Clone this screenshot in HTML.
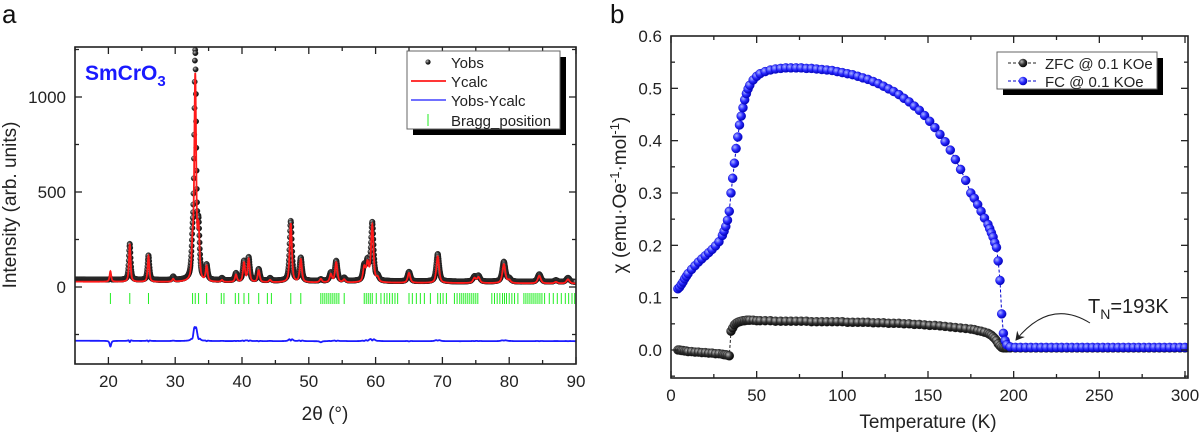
<!DOCTYPE html>
<html><head><meta charset="utf-8">
<style>
html,body{margin:0;padding:0;background:#fff;}
svg{display:block;font-family:"Liberation Sans",Arial,sans-serif;}
</style></head>
<body>
<svg id="fig" width="1200" height="440" viewBox="0 0 1200 440" xmlns="http://www.w3.org/2000/svg">
<defs>
<radialGradient id="gBlack" cx="35%" cy="35%" r="70%"><stop offset="0" stop-color="#bbb"/><stop offset="0.5" stop-color="#333"/><stop offset="1" stop-color="#000"/></radialGradient>
<radialGradient id="gBlue" cx="35%" cy="35%" r="70%"><stop offset="0" stop-color="#aab4ff"/><stop offset="0.5" stop-color="#2a2aff"/><stop offset="1" stop-color="#0000b0"/></radialGradient>
<marker id="arrowHead" markerWidth="10" markerHeight="10" refX="8" refY="5" orient="auto" markerUnits="userSpaceOnUse"><path d="M0,0 L9,5 L0,10 L3,5 Z" fill="#222"/></marker>
</defs>
<text x="2" y="23" font-size="26" fill="#111">a</text>
<text x="610" y="23" font-size="26" fill="#111">b</text>
<g id="panelA"></g>
<g id="panelB"></g>
</svg>
<script>
// ---------- Panel A data ----------
const peakPos   = [20.3,23.2,26.0,29.7,32.6,33.0,33.5,34.7,37.0,39.1,40.3,41.0,42.5,44.2,47.3,48.8,51.8,53.3,54.1,55.3,58.3,58.8,59.5,60.3,65.0,69.3,74.8,75.4,79.2,80.0,84.5,87.0,88.8];
const peakObs   = [5,190,130,18,160,1180,250,75,12,38,100,120,60,14,315,120,8,42,105,16,75,95,305,22,50,145,26,30,105,16,40,9,22];
const peakCalc  = [55,200,135,15,165,1070,250,78,10,38,100,120,62,12,310,120,18,42,105,15,76,95,300,22,52,140,26,30,100,15,40,8,22];
const bgAngles  = [15,30,45,60,75,90];
const bgObs     = [40,35,32,30,28,26];
const bgCalc    = [28,26,24,22,20,18];
const braggPos  = [20.3,23.2,26.0,32.6,33.0,33.5,34.7,36.9,37.3,39.0,39.5,40.3,41.0,42.5,43.8,44.4,47.3,48.8,51.8,52.1,52.4,52.7,53.0,53.3,53.6,53.9,54.2,54.5,55.3,58.3,58.6,58.9,59.2,59.5,60.1,60.8,61.3,61.7,62.1,62.5,62.9,63.3,65.0,65.5,66.1,66.7,67.3,68.2,69.3,69.7,70.1,70.6,71.8,72.2,72.6,72.9,73.2,73.5,73.8,74.1,74.4,74.7,75.0,75.3,77.4,77.8,78.2,78.6,79.0,79.3,79.6,80.0,80.4,80.8,81.3,82.2,82.5,82.8,83.1,83.4,83.7,84.0,84.3,84.6,84.9,85.3,86.0,86.6,87.2,87.8,88.4,88.9,89.4,89.8];
const xTicksA   = [20,30,40,50,60,70,80,90];
const yTicksA   = [0,500,1000];

// ---------- Panel B data ----------
const temps = [4,5,6,7,8,9,10,12,14,16,18,20,22,24,26,28,30,31,32,33,34,35,36,37,38,39,40,41,42,43,44,45,46,48,50,52,55,58,61,64,67,70,73,76,79,82,85,88,91,94,97,100,103,106,109,112,115,118,121,124,127,130,133,136,139,142,145,148,151,154,157,160,163,166,169,172,175,177,179,181,183,185,186,187,188,189,190,191,192,193,194,195,196,198,201,204,207,210,213,216,219,222,225,228,231,234,237,240,243,246,249,252,255,258,261,264,267,270,273,276,279,282,285,288,291,294,297,300];
const chiFC = [0.117,0.120,0.125,0.130,0.136,0.141,0.146,
 0.154,0.161,0.168,0.174,0.180,0.186,0.192,0.199,0.207,0.219,
 0.227,0.236,0.248,0.265,0.300,0.328,0.357,0.385,0.407,0.430,0.447,0.463,0.478,0.490,0.499,0.506,
 0.516,0.523,0.528,
 0.532,0.535,0.537,0.538,0.539,0.539,0.539,0.539,0.538,0.538,0.537,0.536,0.535,0.534,0.532,0.530,0.528,0.526,0.523,0.520,0.517,0.513,0.509,0.504,0.499,0.494,0.488,0.481,0.474,0.466,0.458,0.448,0.437,0.425,0.412,0.398,0.382,0.364,0.345,0.324,0.300,
 0.290,0.278,0.265,0.252,0.240,
 0.232,0.224,0.216,0.205,0.196,0.170,0.133,0.069,0.032,0.018,0.010,
 0.006,
 0.005,0.005,0.005,0.005,0.005,0.005,0.005,0.005,0.005,0.005,0.005,0.005,0.005,0.005,0.005,0.005,0.005,0.005,0.005,0.005,0.005,0.005,0.005,0.005,0.005,0.005,0.005,0.005,0.005,0.005,0.005,0.005,0.005,0.005];
const chiZFC = [0.000,0.000,-0.001,-0.001,-0.002,-0.002,-0.003,
 -0.003,-0.004,-0.004,-0.005,-0.005,-0.006,-0.006,-0.007,-0.007,-0.008,
 -0.009,-0.009,-0.010,-0.011,0.036,0.042,0.048,0.051,0.053,0.054,0.055,0.056,0.056,0.057,0.057,0.057,
 0.057,0.056,0.056,
 0.056,0.056,0.055,0.055,0.055,0.055,0.055,0.055,0.055,0.054,0.054,0.054,0.054,0.054,0.054,0.054,0.053,0.053,0.053,0.053,0.053,0.052,0.052,0.052,0.051,0.051,0.051,0.050,0.050,0.049,0.049,0.048,0.047,0.047,0.046,0.045,0.044,0.043,0.042,0.041,0.040,
 0.039,0.037,0.036,0.034,0.032,
 0.030,0.028,0.025,0.022,0.018,0.012,0.008,0.005,0.004,0.004,0.004,
 0.004,
 0.004,0.004,0.004,0.004,0.004,0.004,0.004,0.004,0.004,0.004,0.004,0.004,0.004,0.004,0.004,0.004,0.004,0.004,0.004,0.004,0.004,0.004,0.004,0.004,0.004,0.004,0.004,0.004,0.004,0.004,0.004,0.004,0.004,0.004];
const xTicksB = [0,50,100,150,200,250,300];
const yTicksB = [0.0,0.1,0.2,0.3,0.4,0.5,0.6];

const NS="http://www.w3.org/2000/svg";
function mk(parent,tag,attrs,text){const e=document.createElementNS(NS,tag);for(const k in attrs)e.setAttribute(k,attrs[k]);if(text!==undefined)e.textContent=text;parent.appendChild(e);return e;}

// ================= PANEL A =================
(function(){
const g=document.getElementById('panelA');
const L=75,R=576,T=47,B=364;
const xA=v=>L+(v-15)/(90-15)*(R-L);
const yA=v=>287-(v)*(190/1000);
function interp(xs,ys,x){for(let i=0;i<xs.length-1;i++){if(x<=xs[i+1]){const t=(x-xs[i])/(xs[i+1]-xs[i]);return ys[i]+t*(ys[i+1]-ys[i]);}}return ys[ys.length-1];}
function profile(x,heights,bg,wf){let s=interp(bgAngles,bg,x);for(let i=0;i<peakPos.length;i++){const w=(0.13+0.002*(peakPos[i]-15))*wf;const d=(x-peakPos[i])/w;s+=heights[i]*(0.6/(1+d*d)+0.4*Math.exp(-0.693*d*d));}return s;}
const clip=mk(g,'clipPath',{id:'clipA'});mk(clip,'rect',{x:L,y:T,width:R-L,height:B-T});
const plot=mk(g,'g',{'clip-path':'url(#clipA)'});
const obs=mk(plot,'g',{});


for(let x=15;x<=90;x+=0.035){mk(obs,'circle',{cx:xA(x).toFixed(1),cy:yA(profile(x,peakObs,bgObs,1.08)).toFixed(1),r:2.7,fill:'url(#gBlack)',stroke:'#222','stroke-width':0.4});}
let d='';for(let x=15;x<=90;x+=0.02){d+=(d?'L':'M')+xA(x).toFixed(2)+','+yA(profile(x,peakCalc,bgCalc,1)).toFixed(2);}
const calc=mk(plot,'path',{d:d,fill:'none',stroke:'#ff1a1a','stroke-width':1.8});


let dd='';for(let x=15;x<=90;x+=0.02){const diff=profile(x,peakObs,bgObs,1.08)-profile(x,peakCalc,bgCalc,1);const off=-290+diff*0.6;dd+=(dd?'L':'M')+xA(x).toFixed(2)+','+yA(off).toFixed(2);}
const dif=mk(plot,'path',{d:dd,fill:'none',stroke:'#1a1aff','stroke-width':1.8});


const br=mk(plot,'g',{});


for(const p of braggPos){mk(br,'line',{x1:xA(p),x2:xA(p),y1:293,y2:304,stroke:'#22ee22','stroke-width':1});}
const fr=mk(g,'rect',{x:L,y:T,width:R-L,height:B-T,fill:'none',stroke:'#222','stroke-width':1.6});


for(let v=15;v<=90;v+=5){const major=v%10===0;const len=major?7:4;const x=xA(v);
 mk(g,'line',{x1:x,x2:x,y1:B,y2:B-len,stroke:'#222','stroke-width':1.3});
 mk(g,'line',{x1:x,x2:x,y1:T,y2:T+len,stroke:'#222','stroke-width':1.3});}
for(const v of xTicksA){const t=mk(g,'text',{x:xA(v),y:B+23,'font-size':17,'text-anchor':'middle',fill:'#222'},String(v));
 
 }
for(let v=-250;v<=1250;v+=250){const major=v%500===0;const len=major?7:4;const y=yA(v);
 mk(g,'line',{x1:L,x2:L+len,y1:y,y2:y,stroke:'#222','stroke-width':1.3});
 mk(g,'line',{x1:R,x2:R-len,y1:y,y2:y,stroke:'#222','stroke-width':1.3});}
for(const v of yTicksA){const t=mk(g,'text',{x:L-9,y:yA(v)+6,'font-size':17,'text-anchor':'end',fill:'#222'},String(v));
 
 }
const xt=mk(g,'text',{x:325,y:420,'font-size':19,'text-anchor':'middle',fill:'#222'},'2θ (°)');


const yt=mk(g,'text',{x:0,y:0,'font-size':19,'text-anchor':'middle',fill:'#222',transform:'translate(16,205) rotate(-90)'},'Intensity (arb. units)');


const sm=mk(g,'text',{x:85,y:80,'font-size':21,'font-weight':'bold',fill:'#1a1aff'},'SmCrO');


mk(sm,'tspan',{dy:6,'font-size':15},'3');
const lg=mk(g,'g',{});


mk(lg,'rect',{x:413,y:57,width:153,height:78,fill:'#000'});
mk(lg,'rect',{x:407,y:51,width:153,height:78,fill:'#fff',stroke:'#666','stroke-width':1});
const labs=['Yobs','Ycalc','Yobs-Ycalc','Bragg_position'];
const ys=[62,81,100,120];
labs.forEach((s,i)=>{const t=mk(lg,'text',{x:451,y:ys[i]+6,'font-size':15,fill:'#222'},s);
 
 });
mk(lg,'circle',{cx:428,cy:62,r:2.6,fill:'url(#gBlack)'});
mk(lg,'line',{x1:411,x2:446,y1:81,y2:81,stroke:'#ff1a1a','stroke-width':1.8});
mk(lg,'line',{x1:411,x2:446,y1:100,y2:100,stroke:'#1a1aff','stroke-width':1.3});
mk(lg,'line',{x1:428,x2:428,y1:114,y2:126,stroke:'#22ee22','stroke-width':1});
})();

// ================= PANEL B =================
(function(){
const g=document.getElementById('panelB');
const L=671,R=1188,T=36,B=378;
const xB=v=>L+v*(1185-671)/300;
const yB=v=>350-v*(314/0.6);
const clip=mk(g,'clipPath',{id:'clipB'});mk(clip,'rect',{x:L,y:T,width:R-L,height:B-T});
const plot=mk(g,'g',{'clip-path':'url(#clipB)'});
function series(vals,fill,stroke,name){
 const sg=mk(plot,'g',{});
 
 
 let d='';temps.forEach((t,i)=>{d+=(i?'L':'M')+xB(t).toFixed(1)+','+yB(vals[i]).toFixed(1);});
 mk(sg,'path',{d:d,fill:'none',stroke:stroke,'stroke-width':1,'stroke-dasharray':'3,2'});
 temps.forEach((t,i)=>{mk(sg,'circle',{cx:xB(t).toFixed(1),cy:yB(vals[i]).toFixed(1),r:4.5,fill:fill,stroke:stroke,'stroke-width':0.4});});
}
series(chiZFC,'url(#gBlack)','#222','zfc-series');
series(chiFC,'url(#gBlue)','#0000cc','fc-series');
const fr=mk(g,'rect',{x:L,y:T,width:R-L,height:B-T,fill:'none',stroke:'#222','stroke-width':1.6});


for(let v=0;v<=300;v+=25){const major=v%50===0;const len=major?7:4;const x=xB(v);
 mk(g,'line',{x1:x,x2:x,y1:B,y2:B-len,stroke:'#222','stroke-width':1.3});
 mk(g,'line',{x1:x,x2:x,y1:T,y2:T+len,stroke:'#222','stroke-width':1.3});}
for(const v of xTicksB){const t=mk(g,'text',{x:xB(v),y:B+23,'font-size':17,'text-anchor':'middle',fill:'#222'},String(v));
 
 }
for(let k=-1;k<=12;k++){const v=k*0.05;const major=k%2===0;const len=major?7:4;const y=yB(v);if(y>B||y<T)continue;
 mk(g,'line',{x1:L,x2:L+len,y1:y,y2:y,stroke:'#222','stroke-width':1.3});
 mk(g,'line',{x1:R,x2:R-len,y1:y,y2:y,stroke:'#222','stroke-width':1.3});}
for(const v of yTicksB){const t=mk(g,'text',{x:L-9,y:yB(v)+6,'font-size':17,'text-anchor':'end',fill:'#222'},v.toFixed(1));
 
 }
const xt=mk(g,'text',{x:928,y:428,'font-size':19,'text-anchor':'middle',fill:'#222'},'Temperature (K)');


const yt=mk(g,'text',{x:0,y:0,'font-size':19,'text-anchor':'middle',fill:'#222',transform:'translate(626,195) rotate(-90)'},'χ (emu·Oe');


mk(yt,'tspan',{dy:-7,'font-size':13},'-1');
mk(yt,'tspan',{dy:7},'·mol');
mk(yt,'tspan',{dy:-7,'font-size':13},'-1');
mk(yt,'tspan',{dy:7},')');
const an=mk(g,'text',{x:1088,y:313,'font-size':20,fill:'#222'},'T');


mk(an,'tspan',{dy:6,'font-size':14},'N');
mk(an,'tspan',{dy:-6},'=193K');
const ar=mk(g,'path',{d:'M1090,323 Q1050,298 1016,340',fill:'none',stroke:'#222','stroke-width':1,'marker-end':'url(#arrowHead)'});


const lg=mk(g,'g',{});


mk(lg,'rect',{x:1003,y:58,width:160,height:37,fill:'#000'});
mk(lg,'rect',{x:997,y:52,width:160,height:37,fill:'#fff',stroke:'#666','stroke-width':1});
mk(lg,'line',{x1:1008,x2:1038,y1:63,y2:63,stroke:'#222','stroke-width':1,'stroke-dasharray':'3,2'});
mk(lg,'circle',{cx:1023,cy:63,r:4.3,fill:'url(#gBlack)'});
mk(lg,'line',{x1:1008,x2:1038,y1:81,y2:81,stroke:'#0000cc','stroke-width':1,'stroke-dasharray':'3,2'});
mk(lg,'circle',{cx:1023,cy:81,r:4.3,fill:'url(#gBlue)'});
const l1=mk(lg,'text',{x:1045,y:69,'font-size':15,fill:'#222'},'ZFC @ 0.1 KOe');


const l2=mk(lg,'text',{x:1045,y:87,'font-size':15,fill:'#222','xml:space':'preserve'},'FC   @ 0.1 KOe');


})();
</script>
</body></html>
